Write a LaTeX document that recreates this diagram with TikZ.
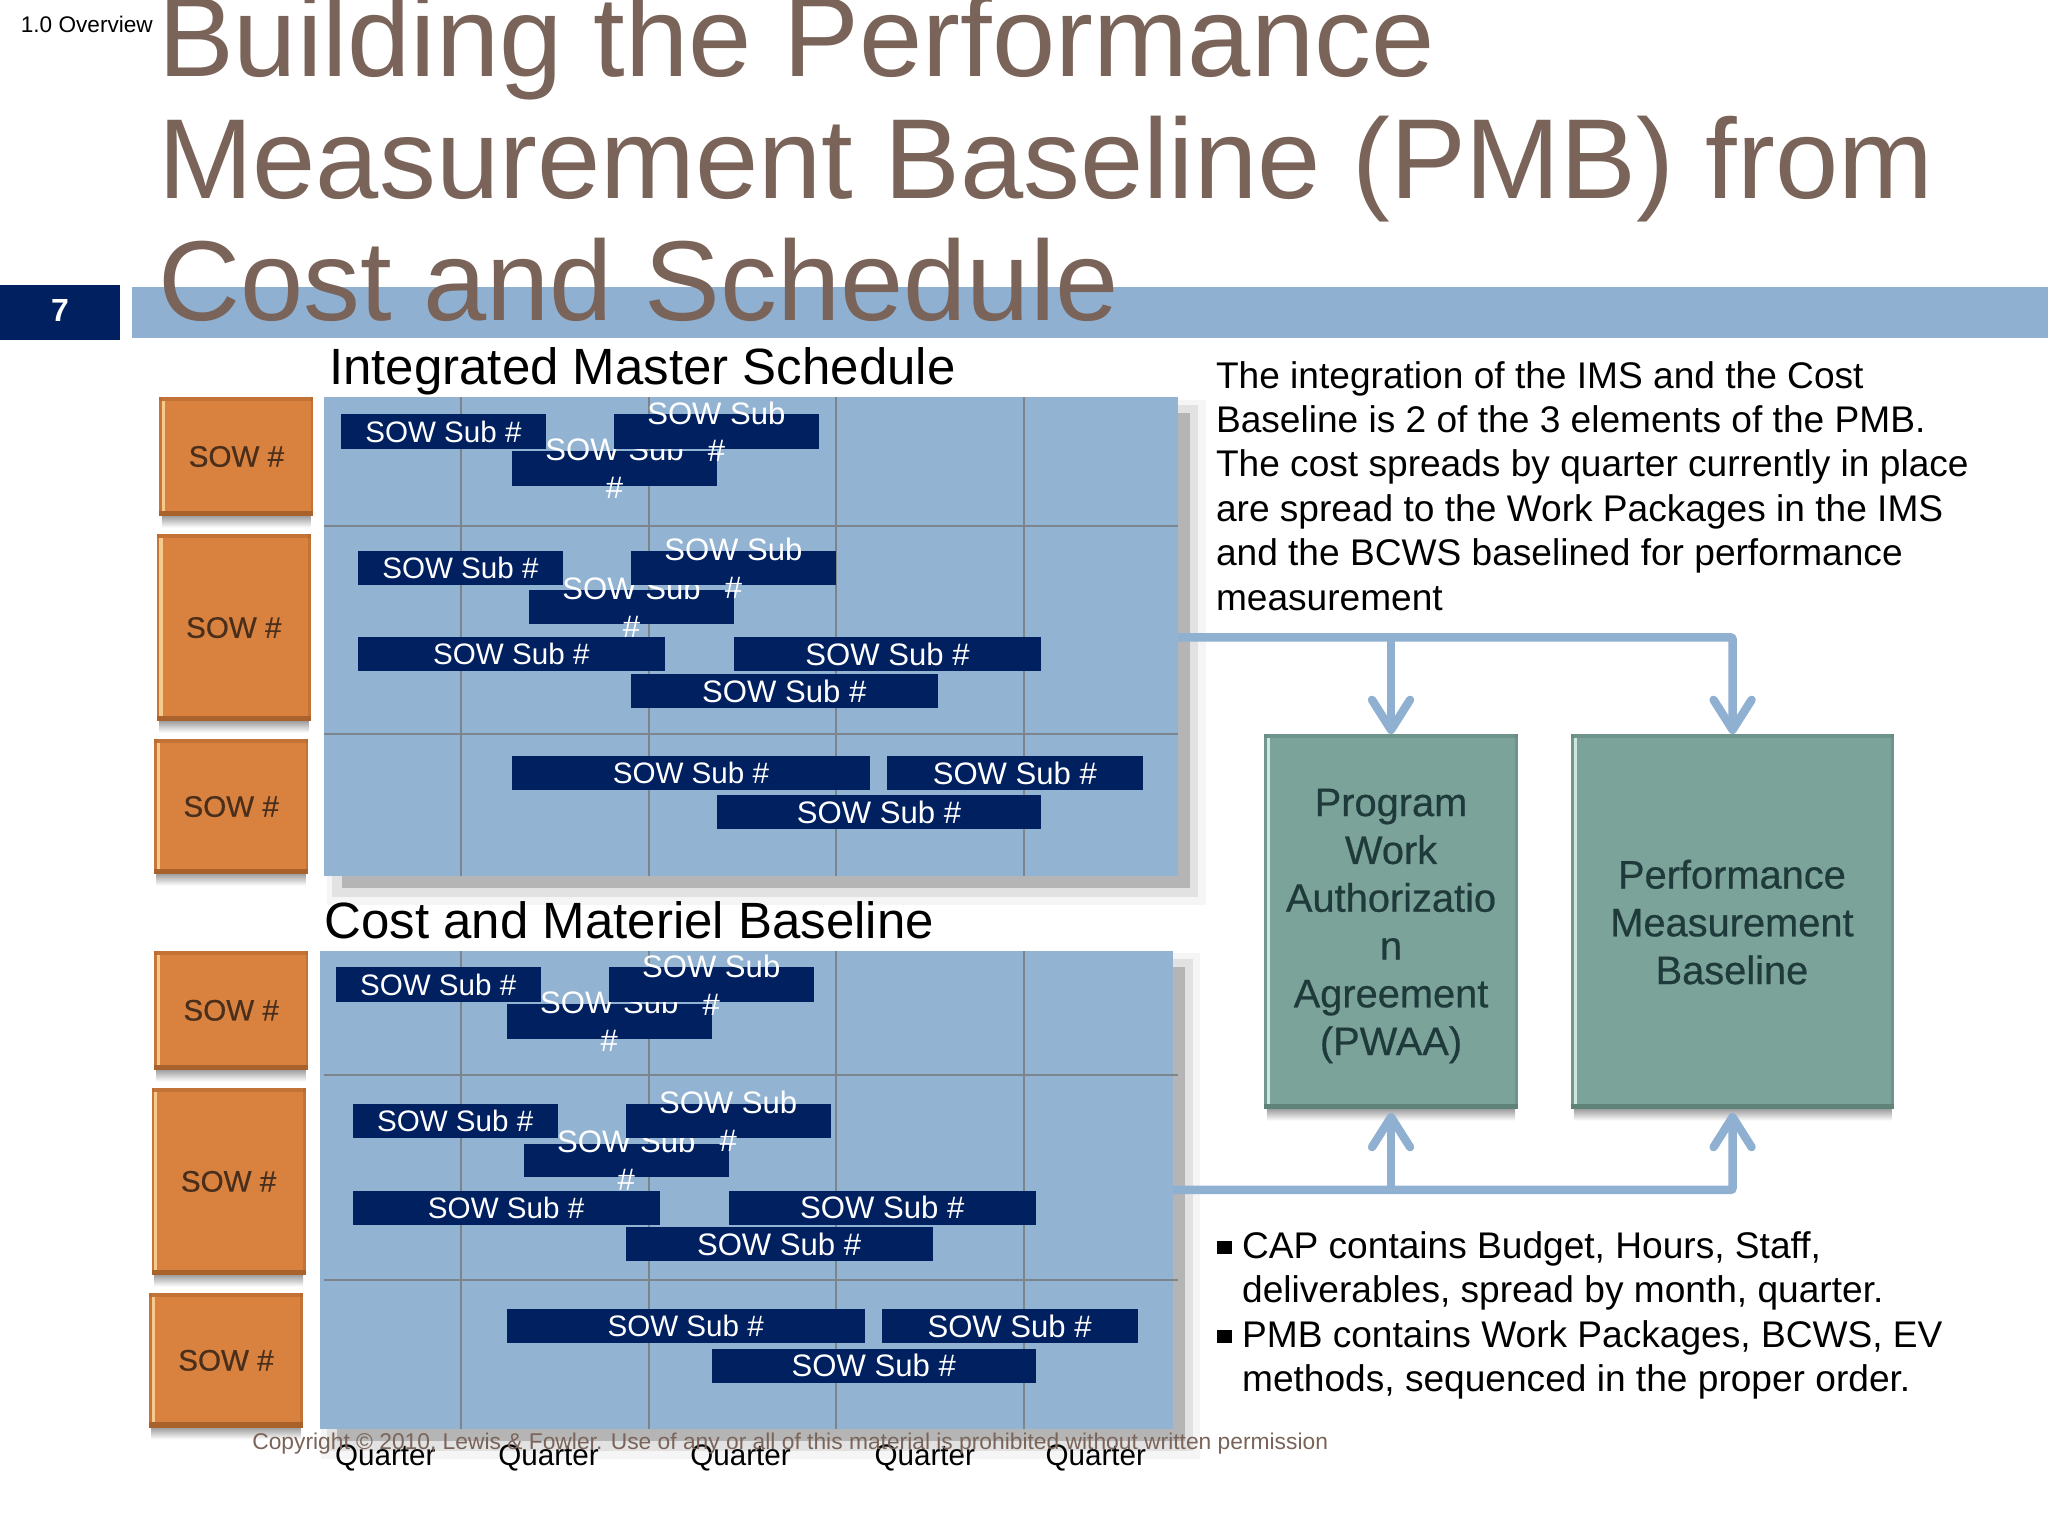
\documentclass[tikz,border=0pt]{standalone}
\usepackage{fontspec}
\setmainfont{Liberation Sans}
\newfontfamily\softbold[RawFeature={embolden=0.5}]{Liberation Sans}
\usetikzlibrary{arrows.meta}
\definecolor{titlebrown}{HTML}{7A6459}
\definecolor{navy}{HTML}{012060}
\definecolor{panelblue}{HTML}{92B3D2}
\definecolor{barblue}{HTML}{8FB0D0}
\definecolor{gridgray}{HTML}{7D858C}
\definecolor{orangebox}{HTML}{D9823F}
\definecolor{orangelight}{HTML}{F4CB8C}
\definecolor{orangedark}{HTML}{A9622C}
\definecolor{orangetext}{HTML}{4A2E1C}
\definecolor{tealbox}{HTML}{7BA39A}
\definecolor{teallight}{HTML}{CFE6E0}
\definecolor{tealdark}{HTML}{5F8279}
\definecolor{tealtext}{HTML}{1E3A3A}
\definecolor{shadefaint}{HTML}{F5F5F5}
\definecolor{shadelight}{HTML}{E2E2E2}
\definecolor{shadegray}{HTML}{B5B5B5}
\tikzset{
  every node/.style={inner sep=0pt,outer sep=0pt},
  barbox/.style={fill=navy},
  bartext/.style={text=white,align=center,font=\fontsize{14.8}{18.9}\selectfont},
  widetext/.style={text=white,align=center,font=\fontsize{15.55}{18.9}\selectfont},
  panelbox/.style={fill=panelblue},
  sowbox/.style={fill=orangebox,text=orangetext,font=\softbold\fontsize{14.8}{18}\selectfont},
  greenbox/.style={fill=tealbox},
  greentext/.style={text=tealtext,align=center,font=\softbold\fontsize{19.9}{23.9}\selectfont},
  gridline/.style={draw=gridgray,line width=1.1pt},
  link/.style={draw=barblue,line width=4.2pt,rounded corners=1pt},
  linkarrow/.style={link,-{Straight Barb[length=15pt,width=19pt,line width=4.2pt,round]}},
  heading/.style={anchor=base west,font=\fontsize{25.5}{30}\selectfont},
  bodytext/.style={anchor=west,align=left,font=\fontsize{18.55}{22.2}\selectfont},
  quarter/.style={font=\fontsize{14.8}{18}\selectfont},
}
% name, x0, x1, y0, y1, style, text
\newcommand\Rect[7]{\node[#6,minimum width={(#3-#2)*0.65306pt},minimum height={(#5-#4)*0.65306pt}] (#1) at ({(#2+#3)/2},{(#4+#5)/2}) {#7};}
\newcommand\SOWBar[6]{\Rect{#1}{#2}{#3}{#4}{#5}{barbox,bartext}{#6}}
\newcommand\WideBar[6]{\Rect{#1}{#2}{#3}{#4}{#5}{barbox,widetext}{#6}}
\newcommand\WrapBar[5]{\Rect{#1}{#2}{#3}{#4}{#5}{barbox}{}\node[widetext] (#1t) at (#1.center) {SOW Sub\\\#};}
% bevelled box: name,x0,x1,y0,y1,style,light,dark,text
\newcommand\Bevel[9]{%
  \shade[top color=black!38,bottom color=white] ({#2+2},#5) rectangle ({#3-2},{#5+9});
  \Rect{#1}{#2}{#3}{#4}{#5}{#6}{#9}
  \fill[#7] ({#2+2},{#4+3}) rectangle ({#2+4.5},{#5-4});
  \fill[#8] (#2,{#5-4}) -- (#3,{#5-4}) -- (#3,#5) -- (#2,#5) -- cycle;
  \fill[#8,opacity=.45] ({#3-2},#4) rectangle (#3,#5);
  \fill[#8,opacity=.45] (#2,#4) rectangle (#3,{#4+3});
  \fill[#8,opacity=.35] (#2,#4) rectangle ({#2+2},#5);
}
\newcommand\Gantt[3]{%
\begin{scope}[shift={(#2,#3)}]
  \SOWBar{#1a}{261}{418}{317}{344}{SOW Sub \#}
  \WrapBar{#1c}{392}{549}{345}{372}
  \WrapBar{#1b}{470}{627}{317}{344}
  \SOWBar{#1d}{274}{431}{422}{448}{SOW Sub \#}
  \WrapBar{#1f}{405}{562}{452}{478}
  \WrapBar{#1e}{483}{640}{422}{448}
  \SOWBar{#1g}{274}{509}{488}{514}{SOW Sub \#}
  \WideBar{#1h}{562}{797}{488}{514}{SOW Sub \#}
  \WideBar{#1i}{483}{718}{516}{542}{SOW Sub \#}
  \SOWBar{#1j}{392}{666}{579}{605}{SOW Sub \#}
  \WideBar{#1k}{679}{875}{579}{605}{SOW Sub \#}
  \WideBar{#1l}{549}{797}{609}{635}{SOW Sub \#}
\end{scope}}
\begin{document}
\begin{tikzpicture}[x=0.65306pt,y=-0.65306pt]
\useasboundingbox (0,0) rectangle (1568,1176);
\clip (0,0) rectangle (1568,1176);
\fill[white] (0,0) rectangle (1568,1176);
% header band
\Rect{pagebox}{0}{92}{218}{260}{fill=navy,text=white,font=\fontsize{16}{18}\bfseries}{\raisebox{1.3pt}{7}}
\Rect{band}{101}{1568}{220}{259}{fill=barblue}{}
\node[anchor=west,font=\fontsize{11.3}{13}\selectfont] (section) at (16,18.5) {1.0 Overview};
\node[anchor=west,align=left,text=titlebrown,font=\fontsize{56.85}{61}\selectfont] (title) at (121,121) {Building the Performance\\Measurement Baseline (PMB) from\\Cost and Schedule};
% top panel
\fill[shadefaint] (250,306) rectangle (923,693);
\fill[shadelight] (254,310) rectangle (917,687);
\fill[shadegray] (262,316) rectangle (911,680);
\Rect{ims}{248}{902}{304}{671}{panelbox}{}
\foreach \gx/\gn in {353/a,497/b,640/c,784/d} \draw[gridline] (\gx,304) coordinate (ims\gn t) -- (\gx,671) coordinate (ims\gn b);
\foreach \gy/\gn in {403/e,562/f} \draw[gridline] (248,\gy) coordinate (ims\gn l) -- (902,\gy) coordinate (ims\gn r);
\Gantt{u}{0}{0}
% bottom panel
\fill[shadefaint] (246,730) rectangle (919,1117);
\fill[shadelight] (250,734) rectangle (913,1111);
\fill[shadegray] (258,740) rectangle (907,1103);
\Rect{cost}{245}{898}{728}{1094}{panelbox}{}
\foreach \gx/\gn in {353/a,497/b,640/c,784/d} \draw[gridline] (\gx,728) coordinate (cost\gn t) -- (\gx,1094) coordinate (cost\gn b);
\foreach \gy/\gn in {823/e,980/f} \draw[gridline] (248,\gy) coordinate (cost\gn l) -- (902,\gy) coordinate (cost\gn r);
\Gantt{v}{-4}{423.5}
% headings
\node[heading] (imshead) at (252,294.5) {Integrated Master Schedule};
\node[heading] (costhead) at (248.5,718.5) {Cost and Materiel Baseline};
% SOW boxes
\Bevel{s1}{122}{240}{304}{395}{sowbox}{orangelight}{orangedark}{SOW \#}
\Bevel{s2}{120}{238}{409}{552}{sowbox}{orangelight}{orangedark}{SOW \#}
\Bevel{s3}{118}{236}{566}{669}{sowbox}{orangelight}{orangedark}{SOW \#}
\Bevel{s4}{118}{236}{728}{819}{sowbox}{orangelight}{orangedark}{SOW \#}
\Bevel{s5}{116}{234}{833}{976}{sowbox}{orangelight}{orangedark}{SOW \#}
\Bevel{s6}{114}{232}{990}{1093}{sowbox}{orangelight}{orangedark}{SOW \#}
% green boxes
\Bevel{pwaa}{968}{1162}{562}{849}{greenbox}{teallight}{tealdark}{}
\node[greentext] (pwaatext) at (1065,709) {Program\\Work\\Authorizatio\\n\\Agreement\\(PWAA)};
\Bevel{pmb}{1203}{1450}{562}{849}{greenbox}{teallight}{tealdark}{}
\node[greentext] (pmbtext) at (1326,706) {Performance\\Measurement\\Baseline};
% connectors
\coordinate (imsout) at (902,488);
\coordinate (costout) at (898,911);
\draw[linkarrow] (imsout) -| (pmb.north);
\draw[linkarrow] (imsout -| pwaa.north) -- (pwaa.north);
\draw[linkarrow] (costout) -| ([yshift=-2pt]pmb.south);
\draw[linkarrow] (costout -| pwaa.south) -- ([yshift=-2pt]pwaa.south);
% right text
\node[bodytext] (intro) at (931,372) {The integration of the IMS and the Cost\\Baseline is 2 of the 3 elements of the PMB.\\The cost spreads by quarter currently in place\\are spread to the Work Packages in the IMS\\and the BCWS baselined for performance\\measurement};
\Rect{bul1}{932}{943}{950}{960}{fill=black}{}
\Rect{bul2}{932}{943}{1018}{1028}{fill=black}{}
\node[bodytext] (caps) at (951,1007) {CAP contains Budget, Hours, Staff,\\deliverables, spread by month, quarter.\\PMB contains Work Packages, BCWS, EV\\methods, sequenced in the proper order.};
% footer
\foreach \qx/\qn in {295/1,420/2,567/3,708/4,839/5} \node[quarter] (q\qn) at (\qx,1116) {Quarter};
\node[text=titlebrown,font=\fontsize{11.4}{14}\selectfont] (copy) at (605,1105) {Copyright © 2010, Lewis \& Fowler. Use of any or all of this material is prohibited without written permission};
\end{tikzpicture}
\end{document}
